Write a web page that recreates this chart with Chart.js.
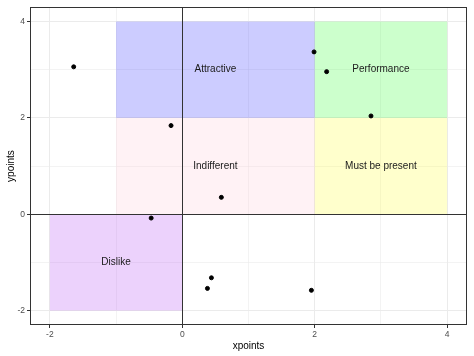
<!DOCTYPE html>
<html>
<head>
<meta charset="utf-8">
<script src="https://cdn.jsdelivr.net/npm/chart.js@4"></script>
<style>
html,body{margin:0;padding:0;background:#fff;}
#wrap{width:474px;height:356px;position:relative;}
</style>
</head>
<body>
<div id="wrap"><canvas id="c"></canvas></div>
<script>
// ---- data ----
const xPoints = [-1.64, -0.17, 1.99, 2.18, 2.85, 0.59, -0.47, 0.44, 0.38, 1.95];
const yPoints = [3.06, 1.84, 3.37, 2.96, 2.04, 0.35, -0.08, -1.32, -1.54, -1.58];

const regionLabels = ['Attractive', 'Performance', 'Indifferent', 'Must be present', 'Dislike'];
const regionXmin = [-1, 2, -1, 2, -2];
const regionXmax = [2, 4, 2, 4, 0];
const regionYmin = [2, 2, 0, 0, -2];
const regionYmax = [4, 4, 2, 2, 0];

const xTickValues = [-2, -1, 0, 1, 2, 3, 4];
const yTickValues = [-2, -1, 0, 1, 2, 3, 4];
const majorTicks = [-2, 0, 2, 4];
const xTitle = 'xpoints';
const yTitle = 'ypoints';

// ---- styles ----
const regionFill = [
  'rgba(0,0,255,0.2)',
  'rgba(0,255,0,0.2)',
  'rgba(255,192,203,0.2)',
  'rgba(255,255,0,0.2)',
  'rgba(160,32,240,0.2)'
];
const FONT = '"Liberation Sans", Arial, sans-serif';

const points = xPoints.map((x, i) => ({x: x, y: yPoints[i]}));

const regionsPlugin = {
  id: 'regions',
  beforeDatasetsDraw(chart) {
    const ctx = chart.ctx;
    const xs = chart.scales.x, ys = chart.scales.y;
    const area = chart.chartArea;
    ctx.save();
    ctx.beginPath();
    ctx.rect(area.left, area.top, area.right - area.left, area.bottom - area.top);
    ctx.clip();
    for (let i = 0; i < regionLabels.length; i++) {
      const x0 = xs.getPixelForValue(regionXmin[i]);
      const x1 = xs.getPixelForValue(regionXmax[i]);
      const y0 = ys.getPixelForValue(regionYmax[i]);
      const y1 = ys.getPixelForValue(regionYmin[i]);
      ctx.fillStyle = regionFill[i];
      ctx.fillRect(x0, y0, x1 - x0, y1 - y0);
    }
    ctx.fillStyle = '#1a1a1a';
    ctx.font = '10px ' + FONT;
    ctx.textAlign = 'center';
    ctx.textBaseline = 'middle';
    for (let i = 0; i < regionLabels.length; i++) {
      const cx = xs.getPixelForValue((regionXmin[i] + regionXmax[i]) / 2);
      const cy = ys.getPixelForValue((regionYmin[i] + regionYmax[i]) / 2);
      ctx.fillText(regionLabels[i], cx, cy);
    }
    // reference lines at 0
    ctx.strokeStyle = '#333333';
    ctx.lineWidth = 1;
    const zx = Math.round(xs.getPixelForValue(0)) + 0.5;
    const zy = Math.round(ys.getPixelForValue(0)) + 0.5;
    ctx.beginPath();
    ctx.moveTo(zx, area.top); ctx.lineTo(zx, area.bottom);
    ctx.moveTo(area.left, zy); ctx.lineTo(area.right, zy);
    ctx.stroke();
    ctx.restore();
  },
  afterDraw(chart) {
    const ctx = chart.ctx;
    const a = chart.chartArea;
    ctx.save();
    ctx.strokeStyle = '#333333';
    ctx.lineWidth = 1;
    ctx.strokeRect(Math.round(a.left) + 0.5, Math.round(a.top) + 0.5,
      Math.round(a.right - a.left) - 1, Math.round(a.bottom - a.top) - 1);
    ctx.restore();
  }
};

function isMajor(v) { return majorTicks.indexOf(v) >= 0; }

const gridCfg = {
  color: (c) => '#ebebeb',
  lineWidth: (c) => (c.tick && isMajor(c.tick.value)) ? 1 : 0.6,
  tickColor: (c) => (c.tick && isMajor(c.tick.value)) ? '#333333' : 'rgba(0,0,0,0)',
  tickLength: 3,
  drawTicks: true
};

new Chart(document.getElementById('c'), {
  type: 'scatter',
  data: {
    datasets: [{
      data: points,
      backgroundColor: '#000000',
      borderColor: '#000000',
      pointRadius: 2,
      pointHoverRadius: 2
    }]
  },
  options: {
    responsive: true,
    maintainAspectRatio: false,
    animation: false,
    events: [],
    layout: {padding: {top: 5, right: 7, left: 0, bottom: 0}},
    plugins: {legend: {display: false}, tooltip: {enabled: false}},
    scales: {
      x: {
        type: 'linear',
        min: -2.3, max: 4.3,
        afterBuildTicks: (s) => { s.ticks = xTickValues.map(v => ({value: v})); },
        afterFit: (s) => { s.height = 31; },
        ticks: {
          autoSkip: false, maxRotation: 0, padding: 2,
          color: '#4d4d4d',
          font: {family: FONT, size: 8.5},
          callback: (v) => isMajor(v) ? String(v) : ''
        },
        grid: gridCfg,
        border: {display: false},
        title: {display: true, text: xTitle, color: '#000', font: {family: FONT, size: 10}, padding: {top: 0, bottom: 4}}
      },
      y: {
        type: 'linear',
        min: -2.3, max: 4.3,
        afterBuildTicks: (s) => { s.ticks = yTickValues.map(v => ({value: v})); },
        afterFit: (s) => { s.width = 30; },
        ticks: {
          autoSkip: false, padding: 2,
          color: '#4d4d4d',
          font: {family: FONT, size: 8.5},
          callback: (v) => isMajor(v) ? String(v) : ''
        },
        grid: gridCfg,
        border: {display: false},
        title: {display: true, text: yTitle, color: '#000', font: {family: FONT, size: 10}, padding: {top: 5, bottom: 0}}
      }
    }
  },
  plugins: [regionsPlugin]
});
</script>
</body>
</html>
